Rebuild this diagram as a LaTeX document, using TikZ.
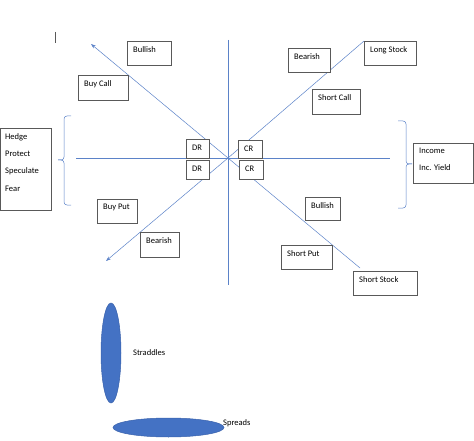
\documentclass[tikz,border=0pt]{standalone}
\usepackage{fontspec}
\setmainfont{Carlito}
\usetikzlibrary{arrows.meta,shapes.geometric}
\definecolor{axisblue}{HTML}{5B82C8}
\definecolor{boxgray}{HTML}{595959}
\definecolor{blobblue}{HTML}{4472C4}
\definecolor{blobedge}{HTML}{3A62AC}
\tikzset{
  tag/.style={draw=boxgray, line width=0.75pt, fill=white, anchor=north west, inner sep=0pt},
  tagtext/.style={anchor=north west, inner sep=0pt, xshift=6pt, yshift=-5pt},
  axis/.style={draw=axisblue, line width=0.5pt},
  tip/.style={-{Stealth[length=5pt,width=3.5pt]}},
  blob/.style={ellipse, draw=blobedge, line width=0.5pt, fill=blobblue, inner sep=0pt},
}
\begin{document}
\begin{tikzpicture}[x=1pt, y=-1pt, font=\fontsize{8.5}{10}\selectfont]
        \useasboundingbox (0,0) rectangle (474,441);
        % cursor mark
        \draw [boxgray, line width=0.8pt] (55,32) -- (55,43);

        % axes
        \coordinate (o) at (228,158);
        \coordinate (west) at (76,158);
        \coordinate (east) at (390,158);
        \coordinate (north) at (228,40);
        \coordinate (south) at (228,285);
        \coordinate (nw) at (91,44);
        \coordinate (ne) at (364,41);
        \coordinate (sw) at (106,261);
        \coordinate (se) at (360,268);
        \draw [axis] (west) -- (east);
        \draw [axis] (north) -- (south);
        \draw [axis, tip] (o) -- (nw);
        \draw [axis] (o) -- (ne);
        \draw [axis, tip] (o) -- (sw);
        \draw [axis] (o) -- (se);

        % braces
        \draw [axis, rounded corners=3pt] (71,116) -- (64,116) -- (64,160) -- (58,160);
        \draw [axis, rounded corners=3pt] (58,160) -- (64,160) -- (64,205) -- (71,205);
        \draw [axis, rounded corners=3pt] (398,121) -- (406,121) -- (406,164) -- (412,164);
        \draw [axis, rounded corners=3pt] (412,164) -- (406,164) -- (406,208) -- (398,208);

        % upper left
        \node [tag, minimum width=44pt, minimum height=24pt, label={[tagtext]north west:Bullish}] (bullUp) at (127,41) {};
        \node [tag, minimum width=50pt, minimum height=25pt, label={[tagtext]north west:Buy Call}] (buyCall) at (78,75) {};
        \node [tag, minimum width=50.5pt, minimum height=82pt,
               label={[tagtext, xshift=-1.5pt, align=left, font=\fontsize{8.5}{17.4}\selectfont]north west:Hedge\\Protect\\Speculate\\Fear}] (hedge) at (0.5,128) {};

        % centre
        \node [tag, minimum width=23pt, minimum height=19pt, label={[tagtext, yshift=-1pt]north west:DR}] (drUp) at (186,139) {};
        \node [tag, minimum width=23pt, minimum height=19pt, label={[tagtext, yshift=-1pt]north west:DR}] (drLow) at (186,160) {};
        \node [tag, minimum width=24pt, minimum height=18pt, label={[tagtext, yshift=-1pt]north west:CR}] (crUp) at (238,140) {};
        \node [tag, minimum width=24pt, minimum height=19pt, label={[tagtext, yshift=-1pt]north west:CR}] (crLow) at (239,160) {};

        % upper right
        \node [tag, minimum width=42pt, minimum height=24pt, label={[tagtext]north west:Bearish}] (bearUp) at (288,48) {};
        \node [tag, minimum width=52pt, minimum height=24pt, label={[tagtext]north west:Long Stock}] (longStock) at (364,41) {};
        \node [tag, minimum width=48pt, minimum height=25pt, label={[tagtext]north west:Short Call}] (shortCall) at (312,89) {};
        \node [tag, minimum width=60pt, minimum height=40pt,
               label={[tagtext, align=left, font=\fontsize{8.5}{17}\selectfont]north west:Income\\Inc. Yield}] (income) at (413,143) {};

        % lower right
        \node [tag, minimum width=35pt, minimum height=23pt, label={[tagtext]north west:Bullish}] (bullLow) at (305,197) {};
        \node [tag, minimum width=51pt, minimum height=24pt, label={[tagtext]north west:Short Put}] (shortPut) at (281,245) {};
        \node [tag, minimum width=64pt, minimum height=24pt, label={[tagtext]north west:Short Stock}] (shortStock) at (353,271) {};

        % lower left
        \node [tag, minimum width=40pt, minimum height=24pt, label={[tagtext]north west:Buy Put}] (buyPut) at (97,199) {};
        \node [tag, minimum width=39pt, minimum height=25pt, label={[tagtext]north west:Bearish}] (bearLow) at (140,232) {};

        % ellipses
        \node [blob, minimum width=20pt, minimum height=100pt] (straddle) at (111,353) {};
        \node [anchor=base west, inner sep=0pt] (straddleText) at (133,355) {Straddles};
        \node [blob, minimum width=111pt, minimum height=19pt] (spread) at (168.5,427.5) {};
        \node [anchor=base west, inner sep=0pt] (spreadText) at (223,425) {Spreads};

    \end{tikzpicture}
\end{document}
